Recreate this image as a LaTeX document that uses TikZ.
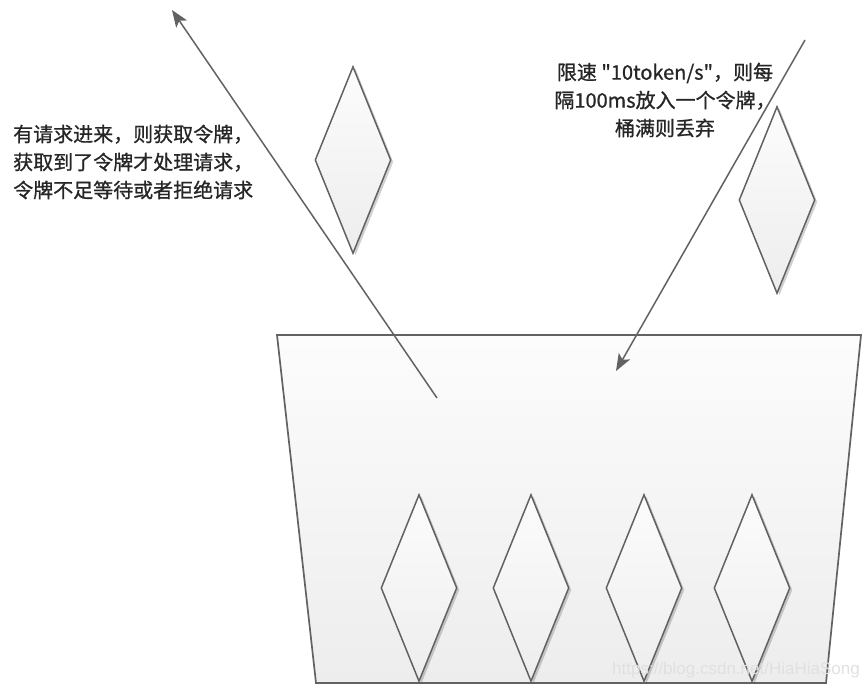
\documentclass[tikz,border=0pt]{standalone}
\usepackage{fontspec}
\newfontfamily\cjk[FakeBold=0.9]{Noto Sans CJK SC}
\usetikzlibrary{positioning, shapes.geometric, arrows.meta, shadows}
\definecolor{edgegray}{HTML}{626262}
\definecolor{fillhi}{HTML}{FCFCFC}
\definecolor{filllo}{HTML}{EDEDED}
\tikzset{
token/.style={draw=edgegray, line width=1.5pt, diamond, inner sep=0pt,
  minimum width=76pt, minimum height=187pt, top color=fillhi, bottom color=filllo,
  drop shadow={shadow xshift=2.5pt, shadow yshift=-2pt, opacity=0.18, fill=black}},
bucket/.style={draw=edgegray, line width=1.7pt, top color=fillhi, bottom color=filllo},
flow/.style={draw=edgegray, line width=1.5pt, -{Stealth[length=17pt, width=13pt, inset=4pt]}},
note/.style={font=\cjk\fontsize{20}{28}\selectfont, text=black!85, inner sep=0pt},
}

\begin{document}
\begin{tikzpicture}[x=1pt, y=-1pt]
            \useasboundingbox (0,0) rectangle (868,690);
            \node[token] (u1) at (353,160) {};
            \node[token] (u2) at (777,200) {};
            \draw[bucket] (277,335) -- (861,335) -- (826,683) -- (316,683) -- cycle;
            \node[token] (t1) at (419,588) {};
            \node[token] (t2) at (531,588) {};
            \node[token] (t3) at (644,588) {};
            \node[token] (t4) at (752,588) {};
            \coordinate (outs) at (437,398);
            \coordinate (oute) at (172,10);
            \coordinate (ins) at (805,40);
            \coordinate (ine) at (616,371);
            \draw[flow] (outs)--(oute);
            \draw[flow] (ins)--(ine);
            \node[note, anchor=west, align=left] (take) at (13,162)
              {有请求进来，则获取令牌，\\获取到了令牌才处理请求，\\令牌不足等待或者拒绝请求};
            \node[note, align=center] (rate) at (665,100)
              {限速 "10token/s"，则每\\隔100ms放入一个令牌，\\桶满则丢弃};
            \node[font=\fontspec{Liberation Sans}\fontsize{17}{20}\selectfont, text=black!12,
              anchor=east, inner sep=0pt] (mark) at (860,670) {https://blog.csdn.net/HiaHiaSong};
        \end{tikzpicture}
\end{document}
